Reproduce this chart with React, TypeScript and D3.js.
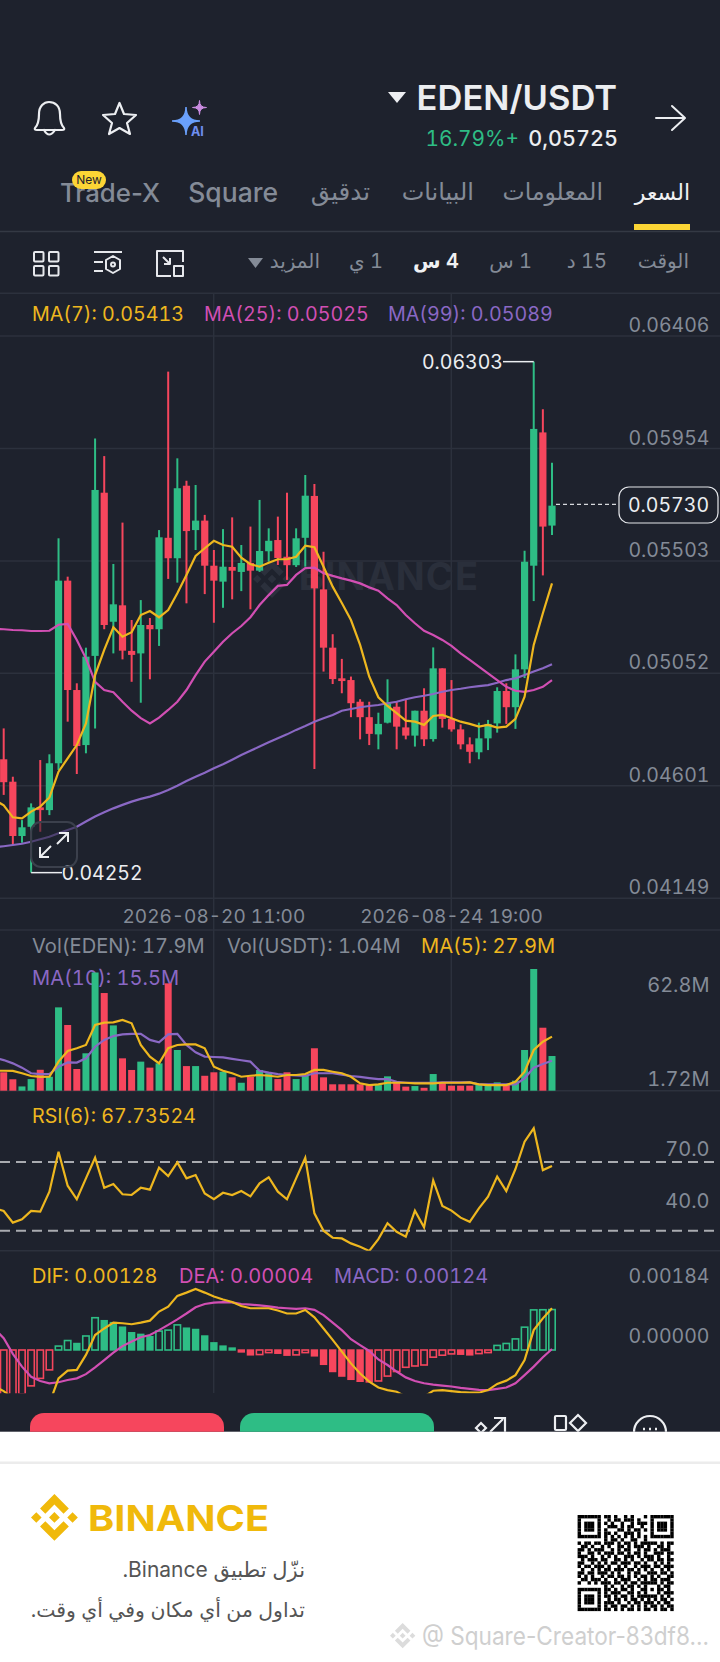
import React from "react";
import * as d3 from "d3";

// prices are stored in units of 0.00001
const highs = [4831,4637,4463,4530,4704,4727,5594,5440,5012,5155,5995,5924,5491,5657,5266,5346,5274,5627,6263,5915,5825,5808,5688,5547,5631,5678,5567,5641,5748,5634,5681,5777,5634,5848,5812,5540,5209,5110,5039,4948,4938,4894,5028,4938,4945,4902,4992,5156,5072,5025,4847,4795,4854,4865,4996,5012,5128,5544,6303,6112,5897];
const lows = [4564,4367,4372,4252,4416,4483,4664,4858,4648,4731,4831,5229,5132,5108,5018,4934,5028,5162,5431,5416,5333,5547,5370,5255,5315,5349,5382,5309,5459,5500,5487,5427,5479,5480,4668,5059,5009,4972,4876,4787,4764,4747,4851,4747,4787,4758,4760,4778,4834,4818,4747,4691,4707,4744,4814,4849,4829,5033,5342,5445,5607];
const opens = [4707,4617,4399,4436,4514,4503,4691,5424,4985,4764,5122,5777,5259,5325,5142,5132,5246,5229,5596,5514,5805,5627,5665,5484,5420,5479,5459,5495,5464,5542,5587,5520,5486,5596,5764,5389,5155,5032,5025,4938,4876,4807,4854,4918,4835,4802,4902,4788,5072,4869,4827,4767,4735,4791,4851,4981,4916,5068,5484,6019,5645];
const closes = [4615,4399,4434,4514,4503,4691,5424,4985,4760,5119,5788,5246,5329,5143,5126,5246,5229,5598,5514,5795,5623,5665,5484,5424,5480,5464,5495,5464,5543,5584,5515,5486,5594,5765,5393,5155,5029,5021,4932,4876,4809,4849,4932,4838,4802,4902,4787,5072,4869,4827,4767,4737,4791,4849,4981,4916,5068,5500,6033,5641,5725];

// lines carry one extra leading value for the candle just off the left edge
const ma7 = [4544,4522,4474,4470,4497,4517,4554,4657,4711,4764,4851,5045,5146,5237,5199,5217,5286,5302,5277,5306,5373,5447,5523,5554,5584,5567,5560,5516,5490,5480,5496,5510,5510,5520,5564,5558,5480,5400,5334,5266,5166,5039,4956,4921,4892,4862,4858,4845,4881,4885,4872,4858,4849,4838,4845,4834,4838,4869,4958,5166,5293,5413];
const ma25 = [5230,5229,5226,5225,5222,5222,5223,5247,5250,5186,5112,5018,4985,4976,4938,4902,4872,4851,4874,4905,4938,4985,5045,5099,5139,5179,5213,5242,5277,5326,5366,5403,5407,5447,5474,5476,5454,5443,5433,5424,5413,5397,5384,5353,5326,5286,5253,5223,5206,5186,5162,5132,5106,5079,5052,5025,4998,4982,4978,4985,4998,5025];
const ma99 = [4353,4358,4363,4368,4376,4386,4396,4410,4423,4436,4457,4477,4494,4510,4524,4537,4548,4557,4569,4584,4601,4620,4637,4653,4671,4687,4705,4724,4741,4758,4775,4791,4807,4825,4841,4858,4872,4885,4902,4909,4916,4921,4925,4932,4938,4948,4956,4962,4969,4978,4985,4990,4996,5001,5005,5014,5025,5032,5045,5059,5072,5088];
const priceTicks = [6406,5954,5503,5052,4601,4149];

// volume in millions
const volumes = [9.5,5.9,2.2,6.0,10.8,7.2,43,33.9,11.2,19.3,61,50.4,33.7,16.7,10.7,15,11.9,14.1,55.4,21,12.7,12.7,7.7,9.5,9.8,6.9,4.1,7.2,10.7,9,6,9.5,6,7.7,21.9,6.9,3.3,3.3,3.3,3.3,2.9,2.9,7.4,4.6,2.1,2.4,1.5,8.6,4.3,2.6,2.6,2.6,3.3,2.9,4.3,3.3,5.2,21,62.8,32.5,17.9];
const volMa5 = [10.3,10.3,10.2,9.0,7.6,7.1,7.2,15.0,20.5,21.9,23.6,33.9,35.1,35.3,36.5,34.8,23.6,17.6,14.1,21.9,23.6,23.9,23.9,21.9,12.4,10.3,9.0,7.2,7.7,8.1,7.7,7.2,8.1,8.1,8.6,10.7,10.7,9.8,9.0,7.2,3.8,2.9,3.3,4.1,4.1,4.1,3.8,3.8,3.8,4.1,4.1,4.1,4.3,3.3,2.9,2.9,2.9,4.6,9.8,21,25.3,27.9];
const volMa10 = [17,15.8,14.1,11.9,9.0,8.6,8.6,12.4,14.6,14.5,16.7,22.7,26.2,28.2,29.1,29.3,29.3,26.2,25,29.1,29.3,23.6,19.8,17.6,17.4,17.2,16.4,15.7,15,10.3,9.3,8.6,8.1,7.9,7.7,9,9,9,8.3,7.6,7.1,6.5,6,6,4.6,4.1,4.1,4.1,4.1,4.3,4.3,4.3,4.3,3.3,3.3,3.3,3.3,3.3,6.4,11.9,13.8,15.5];

const rsi = [43,41.5,34.7,36.6,41.5,41.1,52.7,76,56.2,48.3,60.5,72.5,55,57.2,51.2,50.8,55,53.9,66.7,61.8,69.8,60.5,62.4,51.7,48.3,52.1,50.8,53.1,50,57.6,61.1,52.7,48.3,60.5,72.5,40.1,30,25.9,25.5,22.6,20.7,18.2,25.1,34.3,29.4,26.5,41.7,32,59.3,44.4,41.7,37.6,35.2,43,49.8,61.5,53.1,65.9,81.8,89.6,65.3,67.7];

const macd = [-155,-150,-135,-110,-87,-61,12,29,20,43,99,90,84,70,53,48,41,58,61,77,67,63,43,22,12,6,-6,-15,-14,-8,-10,-16,-15,-8,-18,-44,-66,-80,-90,-96,-98,-95,-80,-66,-53,-49,-46,-22,-16,-12,-13,-15,-11,-8,14,20,34,70,123,123.5,124];
const dif = [-112,-126,-148,-165,-175,-178,-164,-87,-63,-61,-15,46,66,84,82,79,84,90,118,133,166,176,187,176,164,155,147,135,128,128,128,121,112,112,123,100,66,31,-5,-41,-72,-97,-115,-123,-128,-143,-148,-143,-125,-123,-126,-129,-131,-131,-123,-104,-94,-77,-31,61,97,128];
const dea = [66,36,-12,-51,-82,-95,-102,-99,-92,-87,-74,-53,-31,-8,12,26,39,46,61,77,94,112,131,141,145,147,146,141,139,137,134,130,128,126,128,123,107,84,61,33,15,-3,-29,-46,-66,-84,-95,-102,-106,-109,-112,-116,-119,-122,-123,-119,-115,-102,-77,-51,-22,3];

const maLabels = ["MA(7): 0.05413", "MA(25): 0.05025", "MA(99): 0.05089"];
const volLabels = ["Vol(EDEN): 17.9M", "Vol(USDT): 1.04M", "MA(5): 27.9M"];
const macdLabels = ["DIF: 0.00128", "DEA: 0.00004", "MACD: 0.00124"];
const dateLabels = ["2026-08-20 11:00", "2026-08-24 19:00"];
const dateIndex = [23, 49];

const tabs = [
  { t: "السعر", x: 690, c: "#f0f1f3", s: 22 },
  { t: "المعلومات", x: 603, c: "#848b97", s: 23.5 },
  { t: "البيانات", x: 474, c: "#848b97", s: 24 },
  { t: "تدقيق", x: 370, c: "#848b97", s: 24.5 },
];
const times = [
  { t: "الوقت", x: 689, c: "#848b97", w: 400 },
  { t: "15 د", x: 607, c: "#848b97", w: 400 },
  { t: "1 س", x: 532, c: "#848b97", w: 400 },
  { t: "4 س", x: 459, c: "#f0f1f3", w: 600 },
  { t: "1 ي", x: 383, c: "#848b97", w: 400 },
  { t: "المزيد", x: 320, c: "#848b97", w: 400 },
];

const qrRows = [
  "#######.##.#..#.#...#.#######",
  "#.....#..#.##.###.#...#.....#",
  "#.###.#.#.#..#..#.###.#.###.#",
  "#.###.#..###.#.##..#..#.###.#",
  "#.###.#.#...##.#.##.#.#.###.#",
  "#.....#.##.#..###.#...#.....#",
  "#######.#.#.#.#.#.#.#.#######",
  "........#.##.#..##..#........",
  "#.##.##.###.#.##.#.#####.#.##",
  ".##.#..#.#..##.#.###.#..##.#.",
  "##.#.###..#.#.##..#.##.#.###.",
  "#..##.#.###.##.#.##.#..###.##",
  "###.#..#.#.#..###.#.###.#..#.",
  ".#.###.##..##.#.#..#.##.##.##",
  "##..#.#.#.##.###.##.#..#.#.#.",
  "#.##.###.#..#.#..#.###.##.###",
  ".#..#.#.##.###.##.#.#.#..#.#.",
  "##.##.###.#.#..#.##..###.##.#",
  "#.#.#..#.##.##.#.#.##.#.#..##",
  ".##.###.#..#.###..#.#.##.###.",
  "#..#.#.###.##.#.##.#####.#.##",
  "........#.#..#.##.#.#...#.##.",
  "#######.##.#.##.#..##.#.##.#.",
  "#.....#.#.###..##.#.#...#.###",
  "#.###.#.##.#.##.#.######.#.#.",
  "#.###.#..#.##.#.##.#.#.#.##.#",
  "#.###.#.###.#..#.##.###.#.##.",
  "#.....#.#.##.##.#.#.#.##.#.##",
  "#######.##.#.#.##.#.##.#.##.#",
];

const W = 720;
const H = 1662;
const BG = "#1e222d";
const GREEN = "#2ebd85";
const RED = "#f6465d";
const YELLOW = "#eeb71f";
const PINK = "#d14fb3";
const PURPLE = "#8a68c4";
const GREY = "#848b97";
const GRID = "#2c313d";
const FONT = "Inter, 'DejaVu Sans', sans-serif";

const x = d3.scaleLinear().domain([0, 60]).range([3.7, 552]);
const priceY = d3.scaleLinear().domain([4149, 6406]).range([898.3, 336]);
const volY = d3.scaleLinear().domain([0, 62.8]).range([1090.7, 969]);
const rsiY = d3.scaleLinear().domain([30, 70]).range([1230.7, 1162]);
const macdY = d3.scaleLinear().domain([0, 184]).range([1350, 1290]);

const fmt = (v: number) => (v / 1e5).toFixed(5);
const lineOf = (y: d3.ScaleLinear<number, number>) =>
  d3.line<number>().x((_, i) => x(i - 1)).y((d) => y(d));

// four pointed star used by the AI icon
const sparkle = (cx: number, cy: number, rx: number, ry: number) =>
  `M${cx} ${cy - ry} Q${cx} ${cy} ${cx + rx} ${cy} Q${cx} ${cy} ${cx} ${cy + ry} Q${cx} ${cy} ${cx - rx} ${cy} Q${cx} ${cy} ${cx} ${cy - ry} Z`;

const BinanceMark = ({ tx, ty, s, fill }: { tx: number; ty: number; s: number; fill: string }) => (
  <path
    transform={`translate(${tx},${ty}) scale(${s})`}
    fill={fill}
    d="M38.73 53.2l24.59-24.58 24.6 24.6 14.3-14.31L63.32 0 24.42 38.9l14.31 14.3zM0 63.31l14.3-14.31 14.31 14.31-14.31 14.3zM38.73 73.41l24.59 24.59 24.6-24.6 14.31 14.29-38.9 38.91-38.91-38.88-.02-.02zM98 63.31l14.3-14.31 14.31 14.3-14.31 14.32zM77.83 63.3L63.32 48.78 52.59 59.51l-1.24 1.23-2.54 2.54 14.51 14.5 14.51-14.47z"
  />
);

export default function App() {
  const qrCell = 96 / 29;
  const ic = { fill: "none", stroke: "#eceef1", strokeWidth: 2.4, strokeLinejoin: "round" as const, strokeLinecap: "round" as const };
  const ib = { fill: "none", stroke: "#e6e8ec", strokeWidth: 2, strokeLinejoin: "round" as const };

  return (
    <svg width={W} height={H} viewBox={`0 0 ${W} ${H}`} fontFamily={FONT}
      style={{ position: "absolute", left: 0, top: 0, display: "block", fontVariantNumeric: "tabular-nums" }}>
      <defs>
        <clipPath id="rsiClip"><rect x={0} y={1090.7} width={W} height={160} /></clipPath>
        <clipPath id="macdClip"><rect x={0} y={1250.7} width={W} height={142.6} /></clipPath>
        <clipPath id="darkClip"><rect x={0} y={0} width={W} height={1431.7} /></clipPath>
      </defs>
      <rect width={W} height={H} fill="#ffffff" />
      <rect width={W} height={1431.7} fill={BG} />

      {/* header */}
      <path d="M388 92 L406 92 L397 103 Z" fill="#eceef1" />
      <text x={617} y={110} textAnchor="end" fontSize={34.5} fontWeight={600} fill="#eceef1">EDEN/USDT</text>
      <text x={519} y={146} textAnchor="end" fontSize={20.8} fill={GREEN}>16.79%+</text>
      <text x={618} y={146} textAnchor="end" fontSize={21.6} fontWeight={500} fill="#eceef1">0,05725</text>
      <path d="M656 118 H684 M672 106 L685 118 L672 130" {...ic} strokeWidth={2} />
      <path d="M35 128 C39 124 39 118 39 114 C39 106 44 102 49 102 C55 102 60 106 60 114 C60 118 60 124 64 128 Q65 130 62 130 H37 Q34 130 35 128 Z M44 130 Q49 139 55 130" {...ic} strokeWidth={2.2} />
      <path d="M119.5 103 L124 114 L136 115 L127 123 L130 134 L119.5 128 L109 134 L112 123 L103 115 L115 114 Z" {...ic} strokeWidth={2.2} />
      <path d={sparkle(186, 121, 14, 14)} fill="#6aa0fb" stroke="#6aa0fb" strokeWidth={1.5} />
      <path d={sparkle(199.5, 107.5, 7, 7)} fill="#c98be0" stroke="#c98be0" strokeWidth={1} />
      <text x={191} y={136} fontSize={12.5} fontWeight={700} fill="#6f8ff0">AI</text>

      {/* tabs */}
      {tabs.map((d) => (
        <text key={d.t} x={d.x} y={200} fontSize={d.s} fill={d.c} style={{ direction: "rtl" }}>{d.t}</text>
      ))}
      <text x={278} y={202} textAnchor="end" fontSize={26.5} fontWeight={500} fill={GREY}>Square</text>
      <text x={160} y={202} textAnchor="end" fontSize={25.8} fontWeight={500} fill={GREY} style={{ fontVariantNumeric: "normal" }}>Trade-X</text>
      <rect x={72} y={171} width={34} height={18} rx={9} fill="#fcd535" />
      <text x={89} y={184} textAnchor="middle" fontSize={12} fill="#1e222d">New</text>
      <rect x={634} y={224} width={56} height={6} fill="#fcd535" />
      <line x1={0} x2={W} y1={231.5} y2={231.5} stroke="#343944" strokeWidth={1.5} />

      {/* toolbar */}
      {times.map((d) => (
        <text key={d.t} x={d.x} y={268} fontSize={20} fontWeight={d.w} fill={d.c} style={{ direction: "rtl" }}>{d.t}</text>
      ))}
      <path d="M248 258 L263 258 L255.5 268 Z" fill={GREY} />
      <g {...ib}>
        <rect x={34} y={252} width={9.5} height={9.5} rx={1} />
        <rect x={49} y={252} width={9.5} height={9.5} rx={1} />
        <rect x={34} y={266} width={9.5} height={9.5} rx={1} />
        <rect x={49} y={266} width={9.5} height={9.5} rx={1} />
        <path d="M94 252 H122 M94 262 H103 M94 271 H103 M113 256 L120 260 V269 L113 273 L106 269 V260 Z" />
        <circle cx={113} cy={264.5} r={2} />
        <path d="M183 262 V251 H157 V276 H171 M163 257 L170 264 M170 258 V264 H164" />
        <rect x={174} y={266} width={9} height={10} />
      </g>

      {/* grid */}
      <line x1={0} x2={W} y1={293.3} y2={293.3} stroke={GRID} strokeWidth={1.5} />
      {priceTicks.map((t) => (
        <line key={t} x1={0} x2={W} y1={priceY(t)} y2={priceY(t)} stroke={GRID} strokeWidth={1.5} />
      ))}
      {[930, 1090.7, 1250.7].map((v) => (
        <line key={v} x1={0} x2={W} y1={v} y2={v} stroke={GRID} strokeWidth={1.5} />
      ))}
      {dateIndex.map((_, k) => (
        <line key={k} x1={k === 0 ? 213.7 : 451.3} x2={k === 0 ? 213.7 : 451.3} y1={293.3} y2={1393} stroke={GRID} strokeWidth={1.5} />
      ))}

      {/* watermark */}
      <BinanceMark tx={253} ty={560} s={0.3} fill="#2b303c" />
      <text x={479} y={590} textAnchor="end" fontSize={38} fontWeight={700} letterSpacing={1} fill="#2a2f3b">BINANCE</text>

      {/* price panel */}
      <g fontSize={19.7}>
        {maLabels.map((t, i) => (
          <text key={t} x={[32, 204, 388][i]} y={320.7} fill={[YELLOW, PINK, PURPLE][i]}>{t}</text>
        ))}
      </g>
      {priceTicks.map((t) => (
        <text key={t} x={709.5} y={priceY(t) - 4} textAnchor="end" fontSize={19.5} fill={GREY}>{fmt(t)}</text>
      ))}
      {closes.map((c, i) => {
        const up = c >= opens[i];
        const col = up ? GREEN : RED;
        const top = priceY(Math.max(c, opens[i]));
        const bot = priceY(Math.min(c, opens[i]));
        return (
          <g key={i}>
            <line x1={x(i)} x2={x(i)} y1={priceY(highs[i])} y2={priceY(lows[i])} stroke={col} strokeWidth={2} />
            <rect x={x(i) - 3.6} y={top} width={7.2} height={Math.max(bot - top, 1.5)} fill={col} />
          </g>
        );
      })}
      <path d={lineOf(priceY)(ma99)!} fill="none" stroke={PURPLE} strokeWidth={2.2} />
      <path d={lineOf(priceY)(ma25)!} fill="none" stroke={PINK} strokeWidth={2.2} />
      <path d={lineOf(priceY)(ma7)!} fill="none" stroke={YELLOW} strokeWidth={2.2} />

      {/* high / low markers */}
      <line x1={503} x2={x(58)} y1={priceY(6303)} y2={priceY(6303)} stroke="#eceef1" strokeWidth={1.5} />
      <text x={503} y={priceY(6303) + 7.5} textAnchor="end" fontSize={19.5} fill="#eceef1">{fmt(6303)}</text>
      <line x1={x(3)} x2={62} y1={priceY(4252)} y2={priceY(4252)} stroke="#eceef1" strokeWidth={1.5} />
      <text x={61.5} y={priceY(4252) + 7.5} fontSize={19.5} fill="#eceef1">{fmt(4252)}</text>

      {/* last price tag */}
      <line x1={556} x2={619} y1={priceY(5730)} y2={priceY(5730)} stroke="#d8dade" strokeWidth={1.2} strokeDasharray="4 3" />
      <rect x={619} y={487} width={99} height={36} rx={10} fill={BG} stroke="#e4e6ea" strokeWidth={1.2} />
      <text x={668.5} y={512} textAnchor="middle" fontSize={19.5} fill="#eceef1">{fmt(5730)}</text>

      {/* expand button */}
      <rect x={31} y={822} width={46} height={45} rx={10} fill={BG} fillOpacity={0.55} stroke="#3b404c" strokeWidth={2} />
      <path d="M57 844 L67 834 M59 833 H68 V842 M51 846 L41 856 M40 847 V857 H49" fill="none" stroke="#eceef1" strokeWidth={2} />

      {dateLabels.map((t, i) => (
        <text key={t} x={x(dateIndex[i])} y={923} textAnchor="middle" fontSize={19} fill={GREY}>{t}</text>
      ))}

      {/* volume panel */}
      <g fontSize={20.1}>
        {volLabels.map((t, i) => (
          <text key={t} x={[32, 227, 421][i]} y={952.7} fill={[GREY, GREY, YELLOW][i]}>{t}</text>
        ))}
        <text x={32} y={985} fill={PURPLE}>MA(10): 15.5M</text>
      </g>
      <text x={709.5} y={992} textAnchor="end" fontSize={20} fill={GREY}>62.8M</text>
      <text x={709.5} y={1086} textAnchor="end" fontSize={20} fill={GREY}>1.72M</text>
      {volumes.map((v, i) => (
        <rect key={i} x={x(i) - 3.5} y={volY(v)} width={7} height={volY(0) - volY(v)}
          fill={closes[i] >= opens[i] ? GREEN : RED} />
      ))}
      <path d={lineOf(volY)(volMa10)!} fill="none" stroke={PURPLE} strokeWidth={2.2} />
      <path d={lineOf(volY)(volMa5)!} fill="none" stroke={YELLOW} strokeWidth={2.2} />

      {/* rsi panel */}
      <text x={32} y={1123} fontSize={19.7} fill={YELLOW}>RSI(6): 67.73524</text>
      <text x={709.5} y={rsiY(70) - 6} textAnchor="end" fontSize={20} fill={GREY}>70.0</text>
      <text x={709.5} y={rsiY(40) - 6} textAnchor="end" fontSize={20} fill={GREY}>40.0</text>
      {[70, 30].map((v) => (
        <line key={v} x1={0} x2={714} y1={rsiY(v)} y2={rsiY(v)} stroke="#a9abb0" strokeWidth={2} strokeDasharray="10 6" />
      ))}
      <path d={lineOf(rsiY)(rsi)!} fill="none" stroke={YELLOW} strokeWidth={2.2} clipPath="url(#rsiClip)" />

      {/* macd panel */}
      <g fontSize={20}>
        {macdLabels.map((t, i) => (
          <text key={t} x={[32, 179, 334][i]} y={1282.7} fill={[YELLOW, PINK, PURPLE][i]}>{t}</text>
        ))}
      </g>
      <text x={709.5} y={macdY(184) - 7} textAnchor="end" fontSize={19.5} fill={GREY}>{fmt(184)}</text>
      <text x={709.5} y={macdY(0) - 7} textAnchor="end" fontSize={19.5} fill={GREY}>{fmt(0)}</text>
      <g clipPath="url(#macdClip)">
        {macd.map((v, i) => {
          const prev = i === 0 ? -Infinity : macd[i - 1];
          const hollow = v > prev;
          const col = v >= 0 ? GREEN : RED;
          const top = macdY(Math.max(v, 0));
          const h = Math.abs(macdY(v) - macdY(0));
          return hollow ? (
            <rect key={i} x={x(i) - 3.2} y={top} width={6.4} height={h} fill="none" stroke={col} strokeWidth={1.6} />
          ) : (
            <rect key={i} x={x(i) - 3.7} y={top - 0.7} width={7.4} height={h + 1.4} fill={col} />
          );
        })}
        <path d={lineOf(macdY)(dea)!} fill="none" stroke={PINK} strokeWidth={2.2} />
        <path d={lineOf(macdY)(dif)!} fill="none" stroke={YELLOW} strokeWidth={2.2} />
      </g>

      {/* buttons, cut by the white footer */}
      <g clipPath="url(#darkClip)">
        <rect x={30} y={1413} width={194} height={50} rx={14} fill={RED} />
        <rect x={240} y={1413} width={194} height={50} rx={14} fill={GREEN} />
        <path d="M476 1428 L481 1423 L486 1428 L481 1433 Z M490 1432 L503 1419 M494 1418 H505 V1434" fill="none" stroke="#eceef1" strokeWidth={2.2} />
        <rect x={555} y={1416} width={11} height={14} rx={1} fill="none" stroke="#eceef1" strokeWidth={2.2} />
        <path d="M578 1415 L586 1423 L578 1431 L570 1423 Z" fill="none" stroke="#eceef1" strokeWidth={2.2} />
        <circle cx={650} cy={1432} r={16} fill="none" stroke="#eceef1" strokeWidth={2.2} />
        <path d="M643 1429 h2 M649 1429 h2 M655 1429 h2" stroke="#eceef1" strokeWidth={2.4} />
      </g>

      {/* footer */}
      <rect x={0} y={1461.5} width={W} height={2.5} fill="#ececec" />
      <BinanceMark tx={31} ty={1494} s={0.37} fill="#f0b90b" />
      <text x={88} y={1531} fontSize={36} fontWeight={700} fill="#f0b90b" textLength={181} lengthAdjust="spacingAndGlyphs">BINANCE</text>
      <text x={305} y={1577} fontSize={21} fill="#555555" style={{ direction: "rtl" }}>نزّل تطبيق Binance.</text>
      <text x={305} y={1617} fontSize={20.4} fill="#555555" style={{ direction: "rtl" }}>تداول من أي مكان وفي أي وقت.</text>
      <g fill="#000000">
        {qrRows.map((row, r) =>
          row.split("").map((c, k) =>
            c === "#" ? <rect key={`${r}-${k}`} x={577.6 + k * qrCell} y={1515 + r * qrCell} width={qrCell + 0.1} height={qrCell + 0.1} /> : null
          )
        )}
      </g>
      <BinanceMark tx={390} ty={1623} s={0.2} fill="#dcdcdc" />
      <text x={422} y={1645} fontSize={25} fill="#cfcfcf" textLength={287} lengthAdjust="spacingAndGlyphs" style={{ fontVariantNumeric: "normal" }}>@ Square-Creator-83df8...</text>
    </svg>
  );
}
